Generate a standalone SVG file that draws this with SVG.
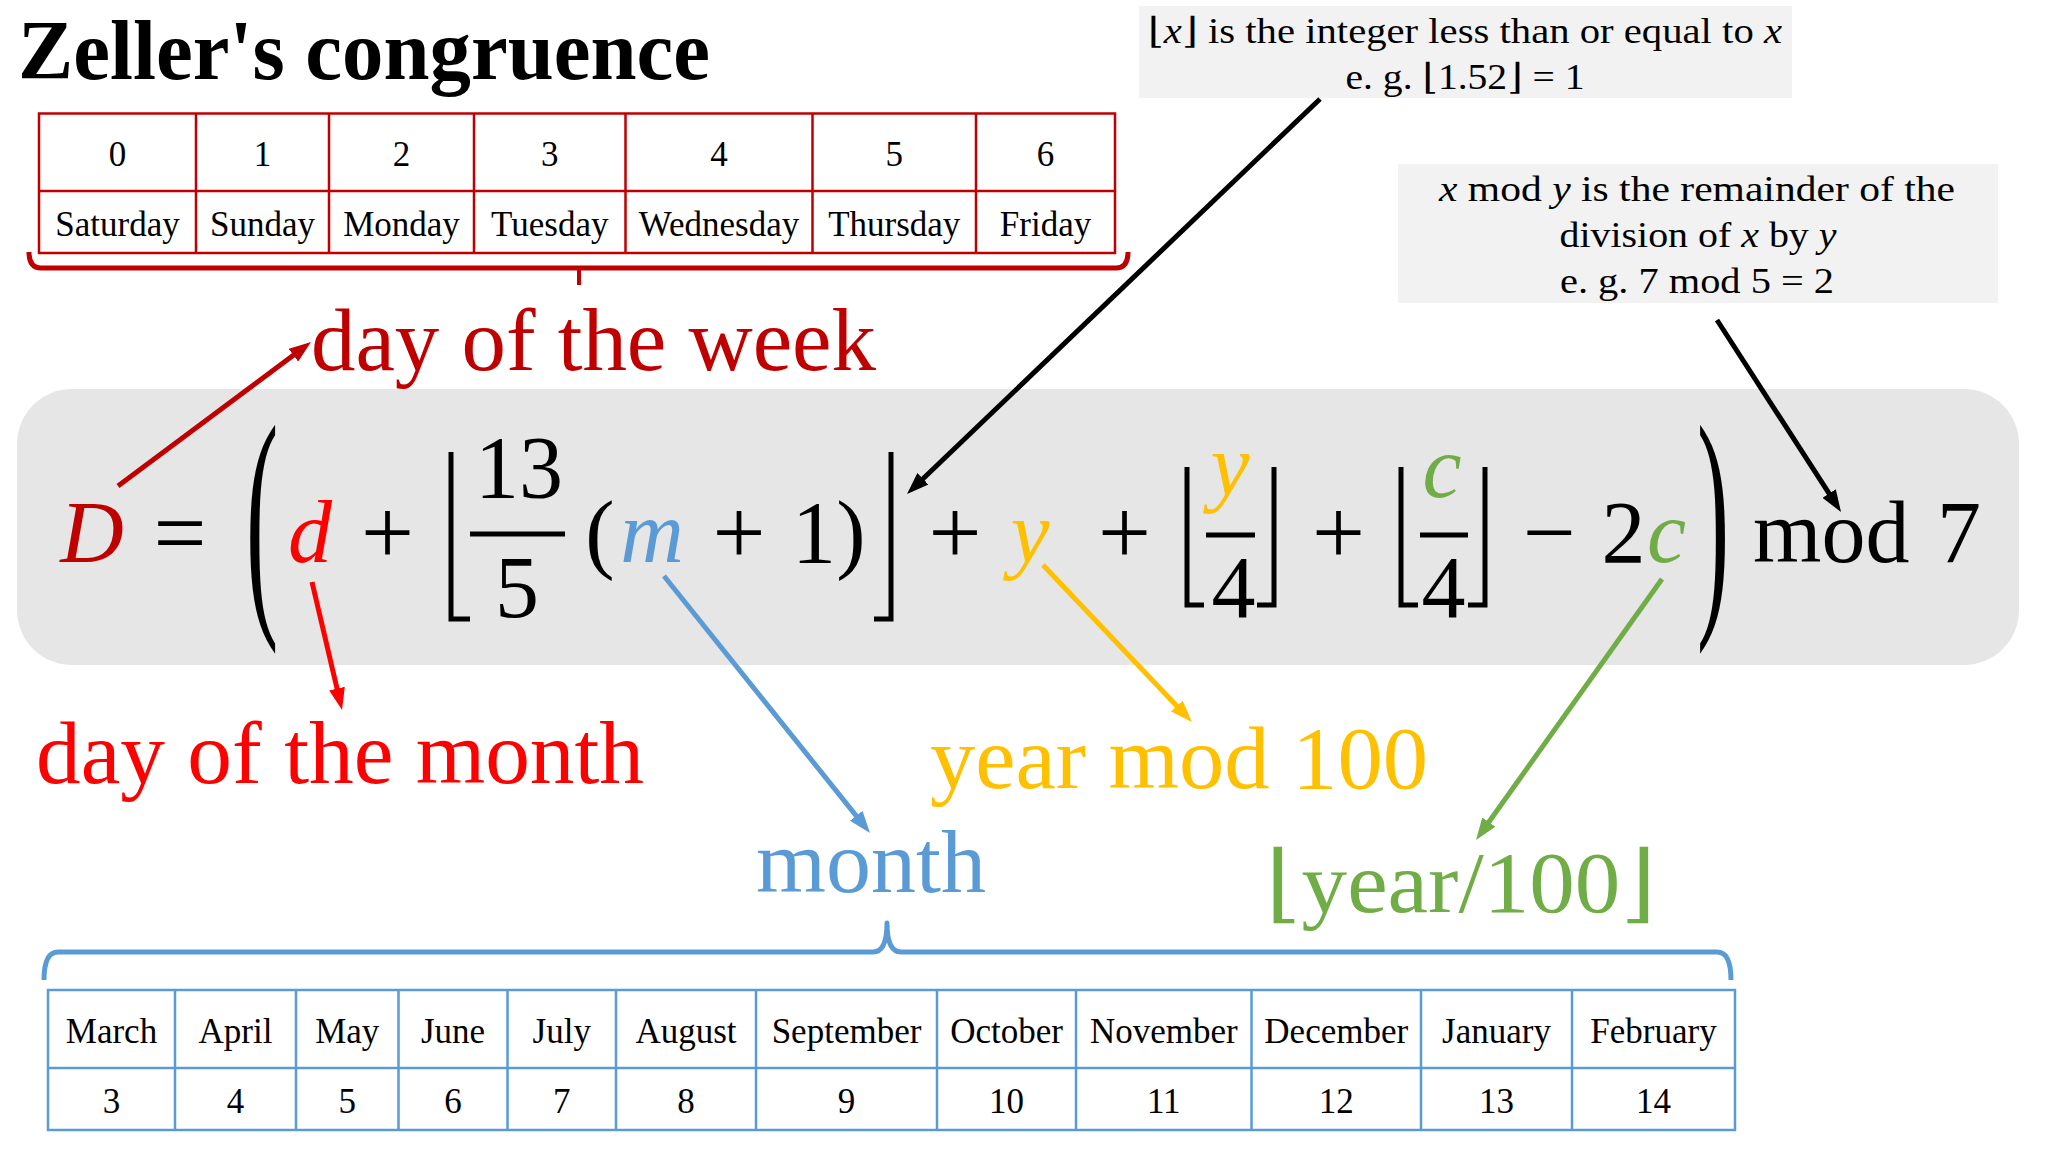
<svg xmlns="http://www.w3.org/2000/svg" width="2048" height="1152" viewBox="0 0 2048 1152">
<defs>
<style>
text{font-family:"Liberation Serif","DejaVu Serif",serif;fill:#000}
.it{font-style:italic}
.t35{font-size:35px;text-anchor:middle}
.co{font-size:36px;text-anchor:middle}
.m{font-size:88px;text-anchor:middle}
.op{font-size:94px;text-anchor:middle}
.big{font-size:88px}
.dred{fill:#C00000}
.red{fill:#FF0000}
.blue{fill:#5B9BD5}
.orange{fill:#FFC000}
.green{fill:#70AD47}
.rgrid{fill:none;stroke:#C00000;stroke-width:2.5}
.bgrid{fill:none;stroke:#5B9BD5;stroke-width:2.5}
.rule{stroke:#000;stroke-width:5;fill:none}
.conn{fill:none;stroke-width:5}
</style>
<marker id="ah-dred" viewBox="0 0 22 16" refX="10" refY="8" markerWidth="22" markerHeight="16" markerUnits="userSpaceOnUse" orient="auto"><path d="M0,0 L22,8 L0,16 z" fill="#C00000"/></marker>
<marker id="ah-red" viewBox="0 0 22 16" refX="10" refY="8" markerWidth="22" markerHeight="16" markerUnits="userSpaceOnUse" orient="auto"><path d="M0,0 L22,8 L0,16 z" fill="#FF0000"/></marker>
<marker id="ah-blue" viewBox="0 0 22 16" refX="10" refY="8" markerWidth="22" markerHeight="16" markerUnits="userSpaceOnUse" orient="auto"><path d="M0,0 L22,8 L0,16 z" fill="#5B9BD5"/></marker>
<marker id="ah-orange" viewBox="0 0 22 16" refX="10" refY="8" markerWidth="22" markerHeight="16" markerUnits="userSpaceOnUse" orient="auto"><path d="M0,0 L22,8 L0,16 z" fill="#FFC000"/></marker>
<marker id="ah-green" viewBox="0 0 22 16" refX="10" refY="8" markerWidth="22" markerHeight="16" markerUnits="userSpaceOnUse" orient="auto"><path d="M0,0 L22,8 L0,16 z" fill="#70AD47"/></marker>
<marker id="ah-black" viewBox="0 0 22 16" refX="10" refY="8" markerWidth="22" markerHeight="16" markerUnits="userSpaceOnUse" orient="auto"><path d="M0,0 L22,8 L0,16 z" fill="#000"/></marker>
</defs>
<rect width="2048" height="1152" fill="#FFFFFF"/>

<g id="title">
<text x="18" y="79" font-size="84" font-weight="bold" textLength="692" lengthAdjust="spacingAndGlyphs">Zeller's congruence</text>
</g>

<g id="day-table">
<rect class="rgrid" x="39" y="113.5" width="1076" height="139.5"/>
<line class="rgrid" x1="39" y1="191" x2="1115" y2="191"/>
<path class="rgrid" d="M196,113.5V253 M329,113.5V253 M474,113.5V253 M625.5,113.5V253 M812.5,113.5V253 M976,113.5V253"/>
<text class="t35" x="117.5" y="166">0</text>
<text class="t35" x="262.5" y="166">1</text>
<text class="t35" x="401.5" y="166">2</text>
<text class="t35" x="549.75" y="166">3</text>
<text class="t35" x="719" y="166">4</text>
<text class="t35" x="894.25" y="166">5</text>
<text class="t35" x="1045.5" y="166">6</text>
<text class="t35" x="117.5" y="236">Saturday</text>
<text class="t35" x="262.5" y="236">Sunday</text>
<text class="t35" x="401.5" y="236">Monday</text>
<text class="t35" x="549.75" y="236">Tuesday</text>
<text class="t35" x="719" y="236">Wednesday</text>
<text class="t35" x="894.25" y="236">Thursday</text>
<text class="t35" x="1045.5" y="236">Friday</text>
</g>

<g id="day-brace">
<path d="M29,252 Q29,268 41,268 L1116,268 Q1128,268 1128,252" fill="none" stroke="#C00000" stroke-width="5"/>
<line x1="579" y1="268" x2="579" y2="285" stroke="#C00000" stroke-width="4"/>
</g>

<g id="label-day-of-week">
<text class="dred" x="311" y="370" font-size="88" textLength="565" lengthAdjust="spacingAndGlyphs">day of the week</text>
</g>

<g id="callout-floor">
<rect x="1139" y="6" width="653" height="92" fill="#F2F2F2"/>
<text class="co" x="1465" y="43" textLength="634" lengthAdjust="spacingAndGlyphs">⌊<tspan class="it">x</tspan>⌋ is the integer less than or equal to <tspan class="it">x</tspan></text>
<text class="co" x="1465" y="89" textLength="239" lengthAdjust="spacingAndGlyphs">e. g. ⌊1.52⌋ = 1</text>
</g>

<g id="callout-mod">
<rect x="1398" y="164" width="600" height="139" fill="#F2F2F2"/>
<text class="co" x="1697" y="201" textLength="516" lengthAdjust="spacingAndGlyphs"><tspan class="it">x</tspan> mod <tspan class="it">y</tspan> is the remainder of the</text>
<text class="co" x="1698" y="247" textLength="277" lengthAdjust="spacingAndGlyphs">division of <tspan class="it">x</tspan> by <tspan class="it">y</tspan></text>
<text class="co" x="1697" y="293" textLength="274" lengthAdjust="spacingAndGlyphs">e. g. 7 mod 5 = 2</text>
</g>

<g id="formula">
<rect x="17" y="389" width="2002" height="276" rx="55" ry="55" fill="#E7E6E6"/>
<text class="m it dred" x="92" y="562">D</text>
<text class="op" x="180" y="564">=</text>
<text class="big" transform="translate(246,600) scale(1.1,2.876)">(</text>
<text class="m it red" x="310" y="562">d</text>
<text class="op" x="387.5" y="564">+</text>
<polyline class="rule" points="451,452 451,619 470,619"/>
<text class="m" x="519" y="497" font-size="84">13</text>
<line class="rule" x1="470" y1="534" x2="565" y2="534"/>
<text class="m" x="517" y="617" font-size="84">5</text>
<text class="m" x="600" y="562">(</text>
<text class="m it blue" x="652" y="562">m</text>
<text class="op" x="739" y="564">+</text>
<text class="m" x="814" y="562">1</text>
<text class="m" x="851" y="562">)</text>
<polyline class="rule" points="874,619 891,619 891,452"/>
<text class="op" x="955" y="564">+</text>
<text class="m it orange" x="1030" y="562">y</text>
<text class="op" x="1124.5" y="564">+</text>
<polyline class="rule" points="1187,467 1187,605 1204,605"/>
<text class="m it orange" x="1230" y="495">y</text>
<line class="rule" x1="1206" y1="535" x2="1255" y2="535"/>
<text class="m" x="1233.5" y="617" font-size="82">4</text>
<polyline class="rule" points="1257,605 1274,605 1274,467"/>
<text class="op" x="1338.5" y="564">+</text>
<polyline class="rule" points="1401,467 1401,605 1418,605"/>
<text class="m it green" x="1442" y="497">c</text>
<line class="rule" x1="1420" y1="535" x2="1468" y2="535"/>
<text class="m" x="1443.5" y="617" font-size="82">4</text>
<polyline class="rule" points="1468,605 1485,605 1485,467"/>
<text class="op" x="1549" y="564">−</text>
<text class="m" x="1623.5" y="562">2</text>
<text class="m it green" x="1666.5" y="562">c</text>
<text class="big" transform="translate(1697,600) scale(1.1,2.876)">)</text>
<text class="big" x="1753" y="562">mod</text>
<text class="m" x="1959" y="562">7</text>
</g>

<g id="label-day-of-month">
<text class="red" x="36" y="783" font-size="88" textLength="608" lengthAdjust="spacingAndGlyphs">day of the month</text>
</g>

<g id="label-month">
<text class="blue" x="756" y="892" font-size="88" textLength="230" lengthAdjust="spacingAndGlyphs">month</text>
</g>

<g id="label-year-mod">
<text class="orange" x="930" y="788" font-size="88" textLength="498" lengthAdjust="spacingAndGlyphs">year mod 100</text>
</g>

<g id="label-century">
<text class="green" x="1266" y="912" font-size="86" textLength="390" lengthAdjust="spacingAndGlyphs">⌊year/100⌋</text>
</g>

<g id="month-brace">
<path d="M44,980 Q44,952 58,952 L873,952 Q887,952 887,923 Q887,952 901,952 L1717,952 Q1731,952 1731,980" fill="none" stroke="#5B9BD5" stroke-width="5" stroke-linejoin="round"/>
</g>

<g id="month-table">
<rect class="bgrid" x="48" y="990" width="1687" height="140"/>
<line class="bgrid" x1="48" y1="1068" x2="1735" y2="1068"/>
<path class="bgrid" d="M175,990V1130 M296,990V1130 M398.5,990V1130 M507.5,990V1130 M616,990V1130 M756,990V1130 M937,990V1130 M1076,990V1130 M1251.5,990V1130 M1421,990V1130 M1572,990V1130"/>
<text class="t35" x="111.5" y="1043">March</text>
<text class="t35" x="235.5" y="1043">April</text>
<text class="t35" x="347.25" y="1043">May</text>
<text class="t35" x="453" y="1043">June</text>
<text class="t35" x="561.75" y="1043">July</text>
<text class="t35" x="686" y="1043">August</text>
<text class="t35" x="846.5" y="1043">September</text>
<text class="t35" x="1006.5" y="1043">October</text>
<text class="t35" x="1163.75" y="1043">November</text>
<text class="t35" x="1336.25" y="1043">December</text>
<text class="t35" x="1496.5" y="1043">January</text>
<text class="t35" x="1653.5" y="1043">February</text>
<text class="t35" x="111.5" y="1113">3</text>
<text class="t35" x="235.5" y="1113">4</text>
<text class="t35" x="347.25" y="1113">5</text>
<text class="t35" x="453" y="1113">6</text>
<text class="t35" x="561.75" y="1113">7</text>
<text class="t35" x="686" y="1113">8</text>
<text class="t35" x="846.5" y="1113">9</text>
<text class="t35" x="1006.5" y="1113">10</text>
<text class="t35" x="1163.75" y="1113">11</text>
<text class="t35" x="1336.25" y="1113">12</text>
<text class="t35" x="1496.5" y="1113">13</text>
<text class="t35" x="1653.5" y="1113">14</text>
</g>

<g id="connectors">
<line class="conn" x1="118" y1="486" x2="301.4" y2="349.2" stroke="#C00000" marker-end="url(#ah-dred)"/>
<line class="conn" x1="312" y1="582" x2="339.3" y2="698.3" stroke="#FF0000" marker-end="url(#ah-red)"/>
<line class="conn" x1="664" y1="576" x2="862.5" y2="823.6" stroke="#5B9BD5" marker-end="url(#ah-blue)"/>
<line class="conn" x1="1043" y1="565" x2="1183.7" y2="713.3" stroke="#FFC000" marker-end="url(#ah-orange)"/>
<line class="conn" x1="1662" y1="579" x2="1483" y2="830.2" stroke="#70AD47" marker-end="url(#ah-green)"/>
<line class="conn" x1="1320" y1="99" x2="915.7" y2="485.7" stroke="#000" marker-end="url(#ah-black)"/>
<line class="conn" x1="1717" y1="320" x2="1834.5" y2="501.9" stroke="#000" marker-end="url(#ah-black)"/>
</g>
</svg>
